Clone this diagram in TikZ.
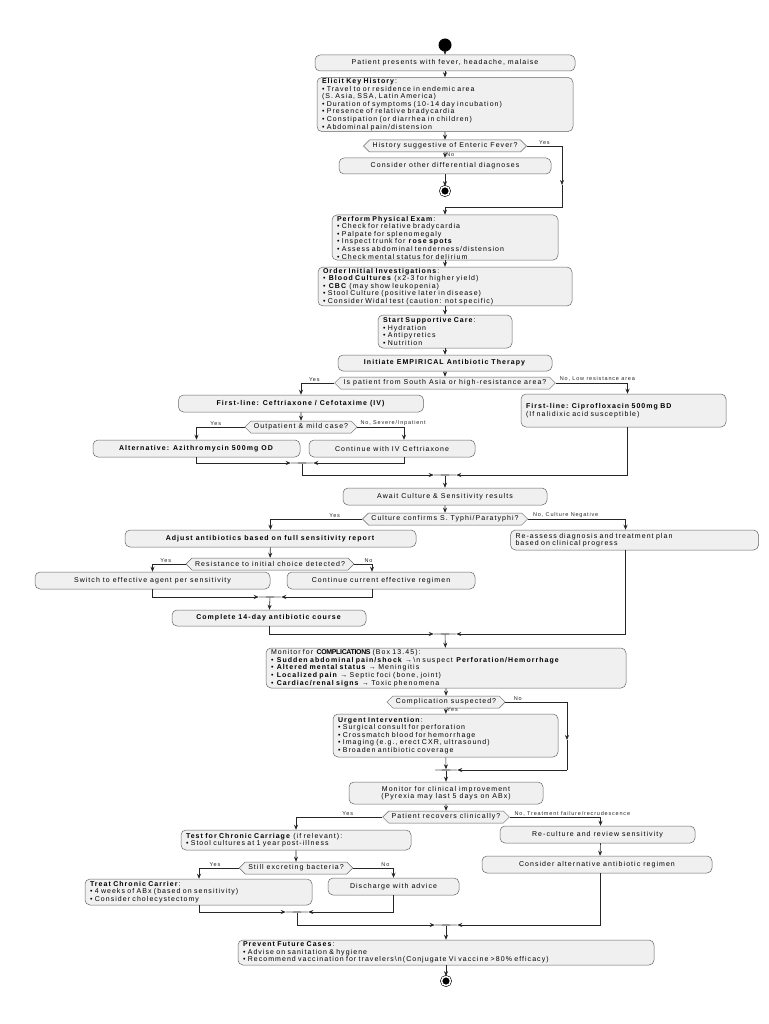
\documentclass[tikz,border=0pt]{standalone}
\usepackage{fontspec}
\setmainfont{Liberation Sans}[LetterSpace=15]
\usetikzlibrary{shapes.geometric,shapes.symbols,arrows.meta}
\begin{document}
\begin{tikzpicture}[x=1pt,y=-1pt,
  base/.style={font=\fontsize{7}{7.6}\selectfont},
  box/.style={base,draw=black!60,fill=black!6,rounded corners=5pt,inner xsep=5pt,inner ysep=1pt,line width=0.5pt},
  lbox/.style={box,align=left},
  dec/.style={base,draw=black!60,fill=black!6,signal,signal to=east and west,inner xsep=3pt,inner ysep=1pt,minimum height=12pt,line width=0.5pt},
  mrg/.style={draw=black!60,fill=black!3,diamond,aspect=1.6,minimum width=22pt,inner sep=0pt,line width=0.5pt},
  lab/.style={font=\fontsize{5.5}{6}\selectfont,inner sep=1pt},
  ln/.style={line width=0.6pt,black!85},
  arr/.style={ln,-{Stealth[length=5pt,width=4pt]}},
  startn/.style={circle,fill=black,minimum size=13pt,inner sep=0pt},
  endn/.style={circle,draw=black,fill=black,minimum size=9pt,inner sep=0pt,double=white,double distance=1.5pt,line width=0.6pt}]
\useasboundingbox[fill=white] (0,0) rectangle (768,1024);

\node[startn] (s) at (445,45) {};
\node[box,minimum width=260pt,minimum height=16pt] (n1) at (445,63) {Patient presents with fever, headache, malaise};
\node[lbox,text width=246pt,minimum height=51pt] (n2) at (445,104.5) {\textbf{Elicit Key History}:\\
 • Travel to or residence in endemic area\\(S. Asia, SSA, Latin America)\\
 • Duration of symptoms (10-14 day incubation)\\ • Presence of relative bradycardia\\
 • Constipation (or diarrhea in children)\\ • Abdominal pain/distension};
\node[dec] (d1) at (445,146) {History suggestive of Enteric Fever?};
\node[box,minimum width=212pt,minimum height=16pt] (no1) at (445,166) {Consider other differential diagnoses};
\node[endn] (e1) at (445,191) {};
\node[lbox,text width=216pt,minimum height=45pt] (n3) at (445,237.5) {\textbf{Perform Physical Exam}:\\
 • Check for relative bradycardia\\ • Palpate for splenomegaly\\
 • Inspect trunk for \textbf{rose spots}\\ • Assess abdominal tenderness/distension\\
 • Check mental status for delirium};
\node[lbox,text width=244pt,minimum height=37pt] (n4) at (445,286.5) {\textbf{Order Initial Investigations}:\\
 • \textbf{Blood Cultures} (x2-3 for higher yield)\\ • \textbf{CBC} (may show leukopenia)\\
 • Stool Culture (positive later in disease)\\ • Consider Widal test (caution: not specific)};
\node[lbox,text width=124pt,minimum height=33pt] (n5) at (445,331.5) {\textbf{Start Supportive Care}:\\
 • Hydration\\ • Antipyretics\\ • Nutrition};
\node[box,minimum width=214pt,minimum height=16pt] (n6) at (445,363) {\textbf{Initiate EMPIRICAL Antibiotic Therapy}};
\node[dec] (d2) at (445,383) {Is patient from South Asia or high-resistance area?};
\node[box,minimum width=245pt,minimum height=17pt] (n7) at (301,403.5) {\textbf{First-line: Ceftriaxone / Cefotaxime (IV)}};
\node[lbox,text width=195pt,minimum height=33pt] (n8) at (623.5,410.5) {\textbf{First-line: Ciprofloxacin 500mg BD}\\(If nalidixic acid susceptible)};
\node[dec] (d3) at (301,427) {Outpatient \& mild case?};
\node[box,minimum width=207pt,minimum height=17pt] (n9) at (196.5,448.5) {\textbf{Alternative: Azithromycin 500mg OD}};
\node[box,minimum width=166pt,minimum height=17pt] (n10) at (392,448.5) {Continue with IV Ceftriaxone};
\node[mrg] (m1) at (302,463) {};
\node[mrg] (m2) at (445,475) {};
\node[box,minimum width=204pt,minimum height=17pt] (n11) at (445,496.5) {Await Culture \& Sensitivity results};
\node[dec] (d4) at (445,519) {Culture confirms S. Typhi/Paratyphi?};
\node[box,minimum width=291pt,minimum height=17pt] (n12) at (270.5,538.5) {\textbf{Adjust antibiotics based on full sensitivity report}};
\node[lbox,text width=238pt,minimum height=20pt] (n13) at (634.5,540) {Re-assess diagnosis and treatment plan\\based on clinical progress};
\node[dec] (d5) at (270,564) {Resistance to initial choice detected?};
\node[box,minimum width=235pt,minimum height=17pt] (n14) at (152.5,580.5) {Switch to effective agent per sensitivity};
\node[box,minimum width=188pt,minimum height=17pt] (n15) at (381,580.5) {Continue current effective regimen};
\node[mrg] (m3) at (270,597) {};
\node[box,minimum width=194pt,minimum height=16pt] (n16) at (269,618) {\textbf{Complete 14-day antibiotic course}};
\node[mrg] (m4) at (445,634) {};
\node[lbox,text width=350pt,minimum height=40pt] (n17) at (446,668) {Monitor for \textbf{\addfontfeature{LetterSpace=-5}COMPLICATIONS} (Box 13.45):\\
 • \textbf{Sudden abdominal pain/shock} →\textbackslash n suspect \textbf{Perforation/Hemorrhage}\\
 • \textbf{Altered mental status} → Meningitis\\ • \textbf{Localized pain} → Septic foci (bone, joint)\\
 • \textbf{Cardiac/renal signs} → Toxic phenomena};
\node[dec] (d6) at (446,702) {Complication suspected?};
\node[lbox,text width=215pt,minimum height=43pt] (n18) at (445.5,735.5) {\textbf{Urgent Intervention}:\\
 • Surgical consult for perforation\\ • Crossmatch blood for hemorrhage\\
 • Imaging (e.g., erect CXR, ultrasound)\\ • Broaden antibiotic coverage};
\node[mrg] (m5) at (446,770) {};
\node[box,align=center,minimum width=194pt,minimum height=22pt] (n19) at (446,793) {Monitor for clinical improvement\\(Pyrexia may last 5 days on ABx)};
\node[dec] (d7) at (446,817) {Patient recovers clinically?};
\node[lbox,text width=220pt,minimum height=20pt] (n20) at (296,840) {\textbf{Test for Chronic Carriage} (if relevant):\\ • Stool cultures at 1 year post-illness};
\node[box,minimum width=195pt,minimum height=17pt] (n21) at (597.5,834.5) {Re-culture and review sensitivity};
\node[box,minimum width=230pt,minimum height=17pt] (n22) at (597,864.5) {Consider alternative antibiotic regimen};
\node[dec] (d8) at (296,868) {Still excreting bacteria?};
\node[lbox,text width=217pt,minimum height=26pt] (n23) at (198.5,892) {\textbf{Treat Chronic Carrier}:\\ • 4 weeks of ABx (based on sensitivity)\\ • Consider cholecystectomy};
\node[box,minimum width=131pt,minimum height=17pt] (n24) at (393.5,886.5) {Discharge with advice};
\node[mrg] (m6) at (297,912) {};
\node[mrg] (m7) at (446,925) {};
\node[lbox,text width=406pt,minimum height=25pt] (n25) at (446,952.5) {\textbf{Prevent Future Cases}:\\ • Advise on sanitation \& hygiene\\
 • Recommend vaccination for travelers\textbackslash n(Conjugate Vi vaccine >80\% efficacy)};
\node[endn] (e2) at (446,981) {};

% coordinates
\coordinate (c1) at (562,185); \coordinate (c2) at (562,207); \coordinate (c3) at (445,207);
\coordinate (c6) at (567,740); \coordinate (c7) at (567,770);

\draw[arr] (s) -- (n1);
\draw[arr] (n1) -- (n2);
\draw[arr] (n2) -- (d1);
\draw[arr] (d1) -- node[lab,right,pos=0.4]{No} (no1);
\draw[arr] (no1) -- (e1);
\draw[arr] (d1.east) -| node[lab,above,pos=0.25]{Yes} (c1);
\draw[ln] (c1) -- (c2) -- (c3);
\draw[arr] (c3) -- (n3);
\draw[arr] (n3) -- (n4);
\draw[arr] (n4) -- (n5);
\draw[arr] (n5) -- (n6);
\draw[arr] (n6) -- (d2);
\draw[arr] (d2.west) -| node[lab,above,pos=0.3]{Yes} (n7.north);
\draw[arr] (d2.east) -| node[lab,above right,pos=0.02]{No, Low resistance area} ([xshift=4pt]n8.north);
\draw[arr] (n7) -- (d3);
\draw[arr] (d3.west) -| node[lab,above,pos=0.3]{Yes} (n9.north);
\draw[arr] (d3.east) -| node[lab,above right,pos=0.02]{No, Severe/Inpatient} ([xshift=12pt]n10.north);
\draw[arr] (n9.south) |- (m1.west);
\draw[arr] ([xshift=12pt]n10.south) |- (m1.east);
\draw[arr] (m1.south) |- (m2.west);
\draw[arr] ([xshift=4pt]n8.south) |- (m2.east);
\draw[arr] (m2) -- (n11);
\draw[arr] (n11) -- (d4);
\draw[arr] (d4.west) -| node[lab,above,pos=0.15]{Yes} (n12.north);
\draw[arr] (d4.east) -| node[lab,above right,pos=0.02]{No, Culture Negative} ([xshift=-9pt]n13.north);
\draw[arr] (n12) -- (d5);
\draw[arr] (d5.west) -| node[lab,above,pos=0.3]{Yes} (n14.north);
\draw[arr] (d5.east) -| node[lab,above,pos=0.4]{No} ([xshift=-9pt]n15.north);
\draw[arr] (n14.south) |- (m3.west);
\draw[arr] ([xshift=-9pt]n15.south) |- (m3.east);
\draw[arr] (m3) -- (n16);
\draw[arr] (n16.south) |- (m4.west);
\draw[arr] ([xshift=-9pt]n13.south) |- (m4.east);
\draw[arr] (m4) -- (n17);
\draw[arr] (n17) -- (d6);
\draw[arr] (d6) -- node[lab,right,pos=0.3]{Yes} (n18);
\draw[arr] (d6.east) -| node[lab,above,pos=0.1]{No} (c6);
\draw[ln] (c6) -- (c7);
\draw[arr] (c7) -- (m5.east);
\draw[arr] (n18) -- (m5);
\draw[arr] (m5) -- (n19);
\draw[arr] (n19) -- (d7);
\draw[arr] (d7.west) -| node[lab,above,pos=0.2]{Yes} (n20.north);
\draw[arr] (d7.east) -| node[lab,above right,pos=0.02]{No, Treatment failure/recrudescence} ([xshift=3pt]n21.north);
\draw[arr] ([xshift=3pt]n21.south) -- ([xshift=3pt]n22.north);
\draw[arr] (n20) -- (d8);
\draw[arr] (d8.west) -| node[lab,above,pos=0.3]{Yes} ([xshift=0.5pt]n23.north);
\draw[arr] (d8.east) -| node[lab,above,pos=0.4]{No} (n24.north);
\draw[arr] ([xshift=0.5pt]n23.south) |- (m6.west);
\draw[arr] (n24.south) |- (m6.east);
\draw[arr] (m6.south) |- (m7.west);
\draw[arr] ([xshift=3pt]n22.south) |- (m7.east);
\draw[arr] (m7) -- (n25);
\draw[arr] (n25) -- (e2);
\end{tikzpicture}
\end{document}
